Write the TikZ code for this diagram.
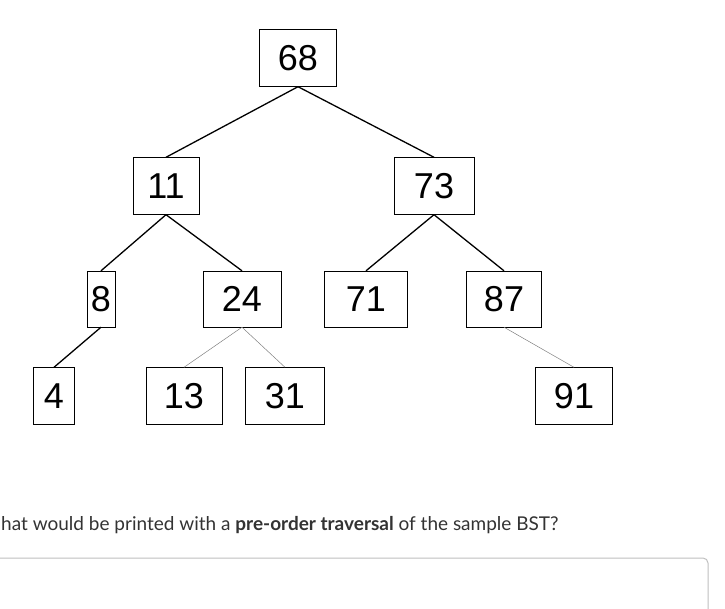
\documentclass[tikz,border=0pt]{standalone}
\usepackage{fontspec}
\setmainfont{Liberation Sans}
\newfontfamily\latofont{Lato}
\begin{document}
\begin{tikzpicture}[x=1pt,y=-1pt,
  bnode/.style={draw,thin,fill=white,inner sep=0pt,font=\fontsize{36}{36}\selectfont},
  thick edge/.style={draw,line width=1.3pt},
  thin edge/.style={draw,gray,line width=0.5pt}]
\useasboundingbox (0,0) rectangle (725,609);
\node[bnode,minimum width=77,minimum height=57] (n68) at (298,58) {68};
\node[bnode,minimum width=66,minimum height=57] (n11) at (166,186) {11};
\node[bnode,minimum width=80,minimum height=57] (n73) at (434,186) {73};
\node[bnode,minimum width=28,minimum height=56] (n8) at (101,299) {8};
\node[bnode,minimum width=78,minimum height=56] (n24) at (242,299) {24};
\node[bnode,minimum width=83,minimum height=56] (n71) at (366,299) {71};
\node[bnode,minimum width=75,minimum height=56] (n87) at (504,299) {87};
\node[bnode,minimum width=41,minimum height=57] (n4) at (54,396) {4};
\node[bnode,minimum width=76,minimum height=57] (n13) at (184,396) {13};
\node[bnode,minimum width=79,minimum height=57] (n31) at (285,396) {31};
\node[bnode,minimum width=77,minimum height=57] (n91) at (574,396) {91};
\draw[thick edge] (n68.south) -- (n11.north);
\draw[thick edge] (n68.south) -- (n73.north);
\draw[thick edge] (n11.south) -- (n8.north);
\draw[thick edge] (n11.south) -- (n24.north);
\draw[thick edge] (n73.south) -- (n71.north);
\draw[thick edge] (n73.south) -- (n87.north);
\draw[thick edge] (n8.south) -- (n4.north);
\draw[thin edge] (n24.south) -- (n13.north);
\draw[thin edge] (n24.south) -- (n31.north);
\draw[thin edge] (n87.south) -- (n91.north);
\node[anchor=base west,inner sep=0pt,text=black!80,font=\latofont\fontsize{19}{19}\selectfont] (q) at (1,530) {hat would be printed with a \textbf{pre-order traversal} of the sample BST?};
\draw[black!25,line width=1pt,rounded corners=5] (-5,558) rectangle (708,620);
\end{tikzpicture}
\end{document}
